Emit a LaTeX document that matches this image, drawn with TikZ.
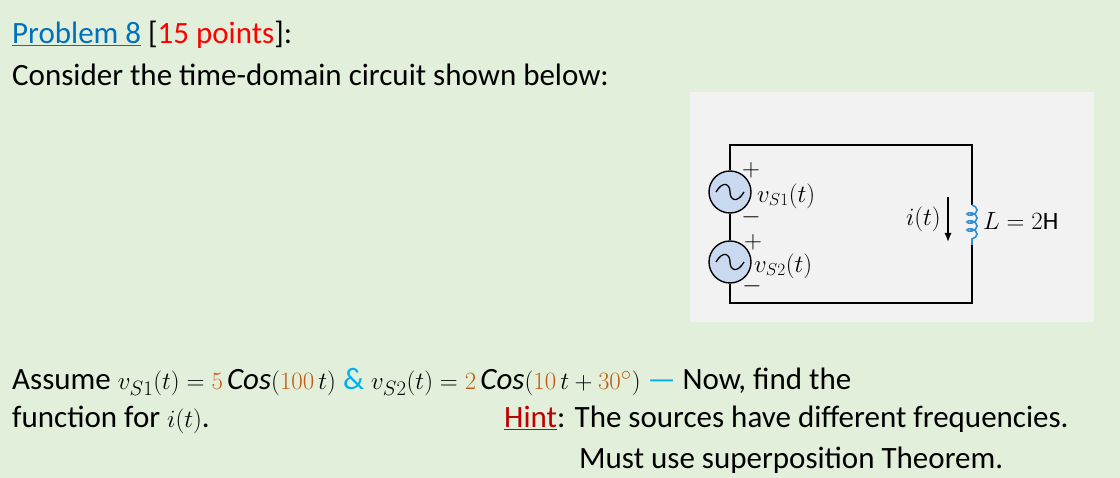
\documentclass[tikz,border=0pt]{standalone}
\usepackage{fontspec}
\setmainfont{Carlito}
\usetikzlibrary{decorations.pathmorphing,arrows.meta}
\definecolor{bg}{HTML}{E2EFDA}
\definecolor{panel}{HTML}{F2F2F2}
\definecolor{lnk}{HTML}{0070C0}
\definecolor{org}{HTML}{C55A11}
\definecolor{amp}{HTML}{00B0F0}
\definecolor{hint}{HTML}{C00000}
\definecolor{src}{HTML}{C9D9EF}
\definecolor{coil}{HTML}{2E8FD6}
\begin{document}
\begin{tikzpicture}[x=1pt,y=-1pt,
  txt/.style={anchor=base west,inner sep=0pt,font=\fontsize{31}{36}\selectfont},
  ctxt/.style={inner sep=0pt,font=\fontsize{25}{30}\selectfont},
  wire/.style={line width=1.6pt},
  srcbox/.style={circle,draw,line width=1.4pt,fill=src,minimum size=42pt,inner sep=0pt}]
\fill[bg] (0,0) rectangle (1120,478);
\useasboundingbox (0,0) rectangle (1120,478);
\fill[panel] (690,92) rectangle (1094,322);
\node[txt] (p) at (12,44) {\textcolor{lnk}{\underline{Problem 8}} [\textcolor{red}{15 points}]:};
\node[txt] (c) at (12,86) {Consider the time-domain circuit shown below:};
% circuit
\node[srcbox] (s1) at (730,192) {};
\node[srcbox] (s2) at (730,262) {};
\foreach \s in {s1,s2}{
 \draw[line width=1.3pt] ([xshift=-14pt]\s.center) .. controls ([xshift=-7pt,yshift=12pt]\s.center) and ([yshift=8pt]\s.center) .. (\s.center) .. controls ([yshift=-8pt]\s.center) and ([xshift=7pt,yshift=-12pt]\s.center) .. ([xshift=14pt]\s.center);}
\coordinate (tl) at (730,145);
\coordinate (tr) at (972,145);
\coordinate (br) at (972,303);
\coordinate (bl) at (730,303);
\coordinate (l1) at (972,205);
\coordinate (l2) at (972,245);
\draw[wire] (s1.north) -- (tl) -- (tr) -- (l1);
\draw[wire] (l2) -- (br) -- (bl) -- (s2.south);
\draw[wire] (s1.south) -- (s2.north);
\draw[coil,line width=1.6pt,decorate,decoration={coil,aspect=0.6,segment length=8pt,amplitude=5pt}] (l1) -- (l2);
\coordinate (a1) at (948,197);
\coordinate (a2) at (948,242);
\draw[line width=1.3pt,-{Latex[length=9pt,width=7pt]}] (a1) -- (a2);
\node[ctxt,anchor=east] (it) at (941,219) {$i(t)$};
\node[ctxt,anchor=west] (L) at (983,221) {$L=2\mathrm{H}$};
\node[ctxt] (p1) at (751,170) {$+$};
\node[ctxt,anchor=west] (v1) at (757,196) {$v_{S1}(t)$};
\node[ctxt] (m1) at (751,217) {$-$};
\node[ctxt] (p2) at (753,242) {$+$};
\node[ctxt,anchor=west] (v2) at (754,266) {$v_{S2}(t)$};
\node[ctxt] (m2) at (752,286) {$-$};
% bottom text
\node[txt] (a) at (12,390) {Assume $v_{S1}(t)=\textcolor{org}{5}\,\mathit{Cos}(\textcolor{org}{100}\,t)$ \textcolor{amp}{\&} $v_{S2}(t)=\textcolor{org}{2}\,\mathit{Cos}(\textcolor{org}{10}\,t+\textcolor{org}{30^\circ})$ \textcolor{amp}{---} Now,\ find\ the};
\node[txt] (f) at (12,428) {function for $i(t)$.};
\node[txt] (h) at (504,428) {\textcolor{hint}{\underline{Hint}}: The sources have different frequencies.};
\node[txt] (m) at (579,468) {Must use superposition Theorem.};
\end{tikzpicture}
\end{document}
